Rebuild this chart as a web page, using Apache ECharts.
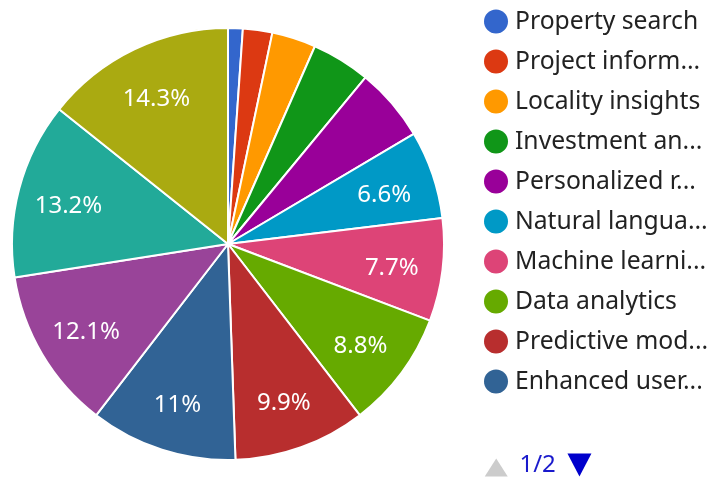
<!DOCTYPE html>
<html>
<head>
<meta charset="utf-8">
<script src="https://cdn.jsdelivr.net/npm/echarts@6/dist/echarts.min.js"></script>
<style>
  html, body { margin: 0; padding: 0; background: #fff; }
  #main { width: 709px; height: 477px; }
</style>
</head>
<body>
<div id="main"></div>
<script>
// slice names and values
var categories = [
  'Property search', 'Project information', 'Locality insights',
  'Investment analysis', 'Personalized recommendations',
  'Natural language processing', 'Machine learning', 'Data analytics',
  'Predictive modeling', 'Enhanced user experience', 'Virtual tours',
  'Market trends', 'Customer support'
]
var values = [1, 2, 3, 4, 5, 6, 7, 8, 9, 10, 11, 12, 13]
var colors = ['#3366cc', '#dc3912', '#ff9900', '#109618', '#990099', '#0099c6',
  '#dd4477', '#66aa00', '#b82e2e', '#316395', '#994499', '#22aa99', '#aaaa11']

var pieData = categories.map(function (name, i) {
  return { name: name, value: values[i] }
})

var myChart = echarts.init(document.getElementById('main'))
var font = 'Noto Sans'

myChart.setOption({
  color: colors,
  animation: false,
  legend: {
    type: 'scroll',
    orient: 'vertical',
    left: 484,
    top: 9,
    bottom: 0,
    padding: 0,
    icon: 'circle',
    itemWidth: 24,
    itemHeight: 24,
    itemGap: 15,
    itemStyle: { borderWidth: 0 },
    textStyle: {
      fontFamily: font,
      fontSize: 24.7,
      color: '#222',
      width: 197,
      overflow: 'truncate',
      ellipsis: '...',
      padding: [0, 0, 0, 2]
    },
    // the trailing move in the "next" icon only widens its box so the
    // pager sits at the left under the legend, like the original
    pageIcons: {
      vertical: ['path://M0,23L23,23L11.5,5Z M0,0', 'path://M0,0L24,0L12,23Z M140,0']
    },
    pageIconSize: [160, 23],
    pageButtonItemGap: 0,
    pageButtonGap: 50,
    pageIconColor: '#0000cc',
    pageIconInactiveColor: '#cccccc',
    pageTextStyle: { fontFamily: font, fontSize: 24, color: '#1a1acc' }
  },
  series: [
    {
      type: 'pie',
      center: [228, 244],
      radius: [0, 216],
      startAngle: 90,
      data: pieData,
      itemStyle: { borderColor: '#fff', borderWidth: 2 },
      label: { show: false },
      labelLine: { show: false }
    },
    {
      // transparent ring used only to place labels at 3/4 radius
      type: 'pie',
      center: [228, 244],
      radius: [108, 216],
      startAngle: 90,
      silent: true,
      data: pieData,
      itemStyle: { color: 'rgba(0,0,0,0)' },
      label: {
        show: true,
        position: 'inside',
        color: '#fff',
        fontFamily: font,
        fontSize: 24,
        offset: [0, 4],
        formatter: function (p) {
          if (p.percent < 6) return ''
          return +p.percent.toFixed(1) + '%'
        }
      },
      labelLine: { show: false }
    }
  ]
})
</script>
</body>
</html>
